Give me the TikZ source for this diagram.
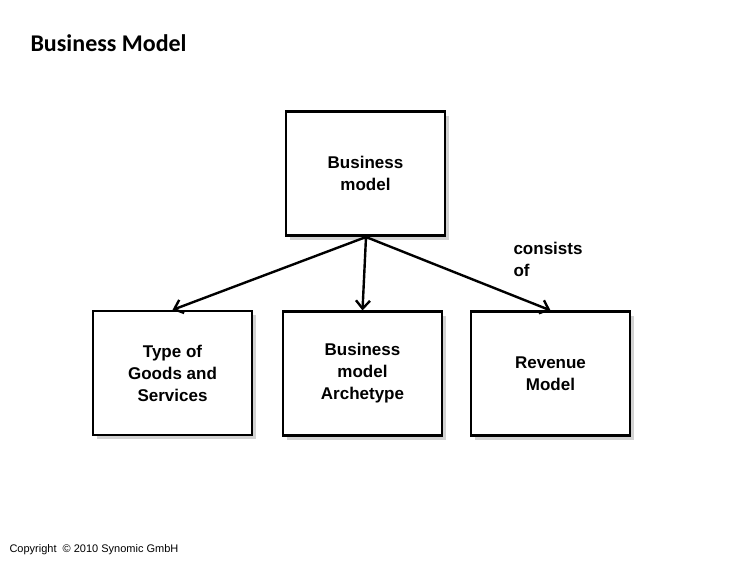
\documentclass[tikz,border=0pt]{standalone}
\usepackage{fontspec}
\usetikzlibrary{shadows,arrows.meta}
\setmainfont{Liberation Sans}
\newfontfamily\titlefont{Carlito}
\begin{document}
\begin{tikzpicture}[x=1pt,y=-1pt,
 box/.style={draw=black,line width=2.2pt,fill=white,minimum width=159pt,minimum height=124pt,align=center,font=\bfseries\fontsize{17}{22}\selectfont,
   drop shadow={shadow xshift=4pt,shadow yshift=-4pt,fill=black!35}}]
\useasboundingbox (0,0) rectangle (750,563);
\node[anchor=west,font=\titlefont\bfseries\fontsize{24}{28}\selectfont] (t) at (27,43) {Business Model};
\node[box] (bm) at (365.5,173.5) {Business\\model};
\node[box] (g) at (172.5,373) {Type of\\Goods and\\ Services};
\node[box] (a) at (362.5,373.5) {Business\\model\\Archetype};
\node[box] (r) at (550.5,373.5) {Revenue\\Model};
\coordinate (o) at (366,237);
\draw[line width=2.4pt,-{Straight Barb[length=8pt,width=14pt]}] (o) -- (g.north);
\draw[line width=2.4pt,-{Straight Barb[length=8pt,width=14pt]}] (o) -- (a.north);
\draw[line width=2.4pt,-{Straight Barb[length=8pt,width=14pt]}] (o) -- (r.north);
\node[anchor=north west,align=left,font=\bfseries\fontsize{17}{22}\selectfont] (c) at (510,239) {consists\\of};
\node[anchor=west,font=\fontsize{11}{13}\selectfont] (cp) at (6,550) {Copyright~ \textcopyright\ 2010 Synomic GmbH};
\end{tikzpicture}
\end{document}
